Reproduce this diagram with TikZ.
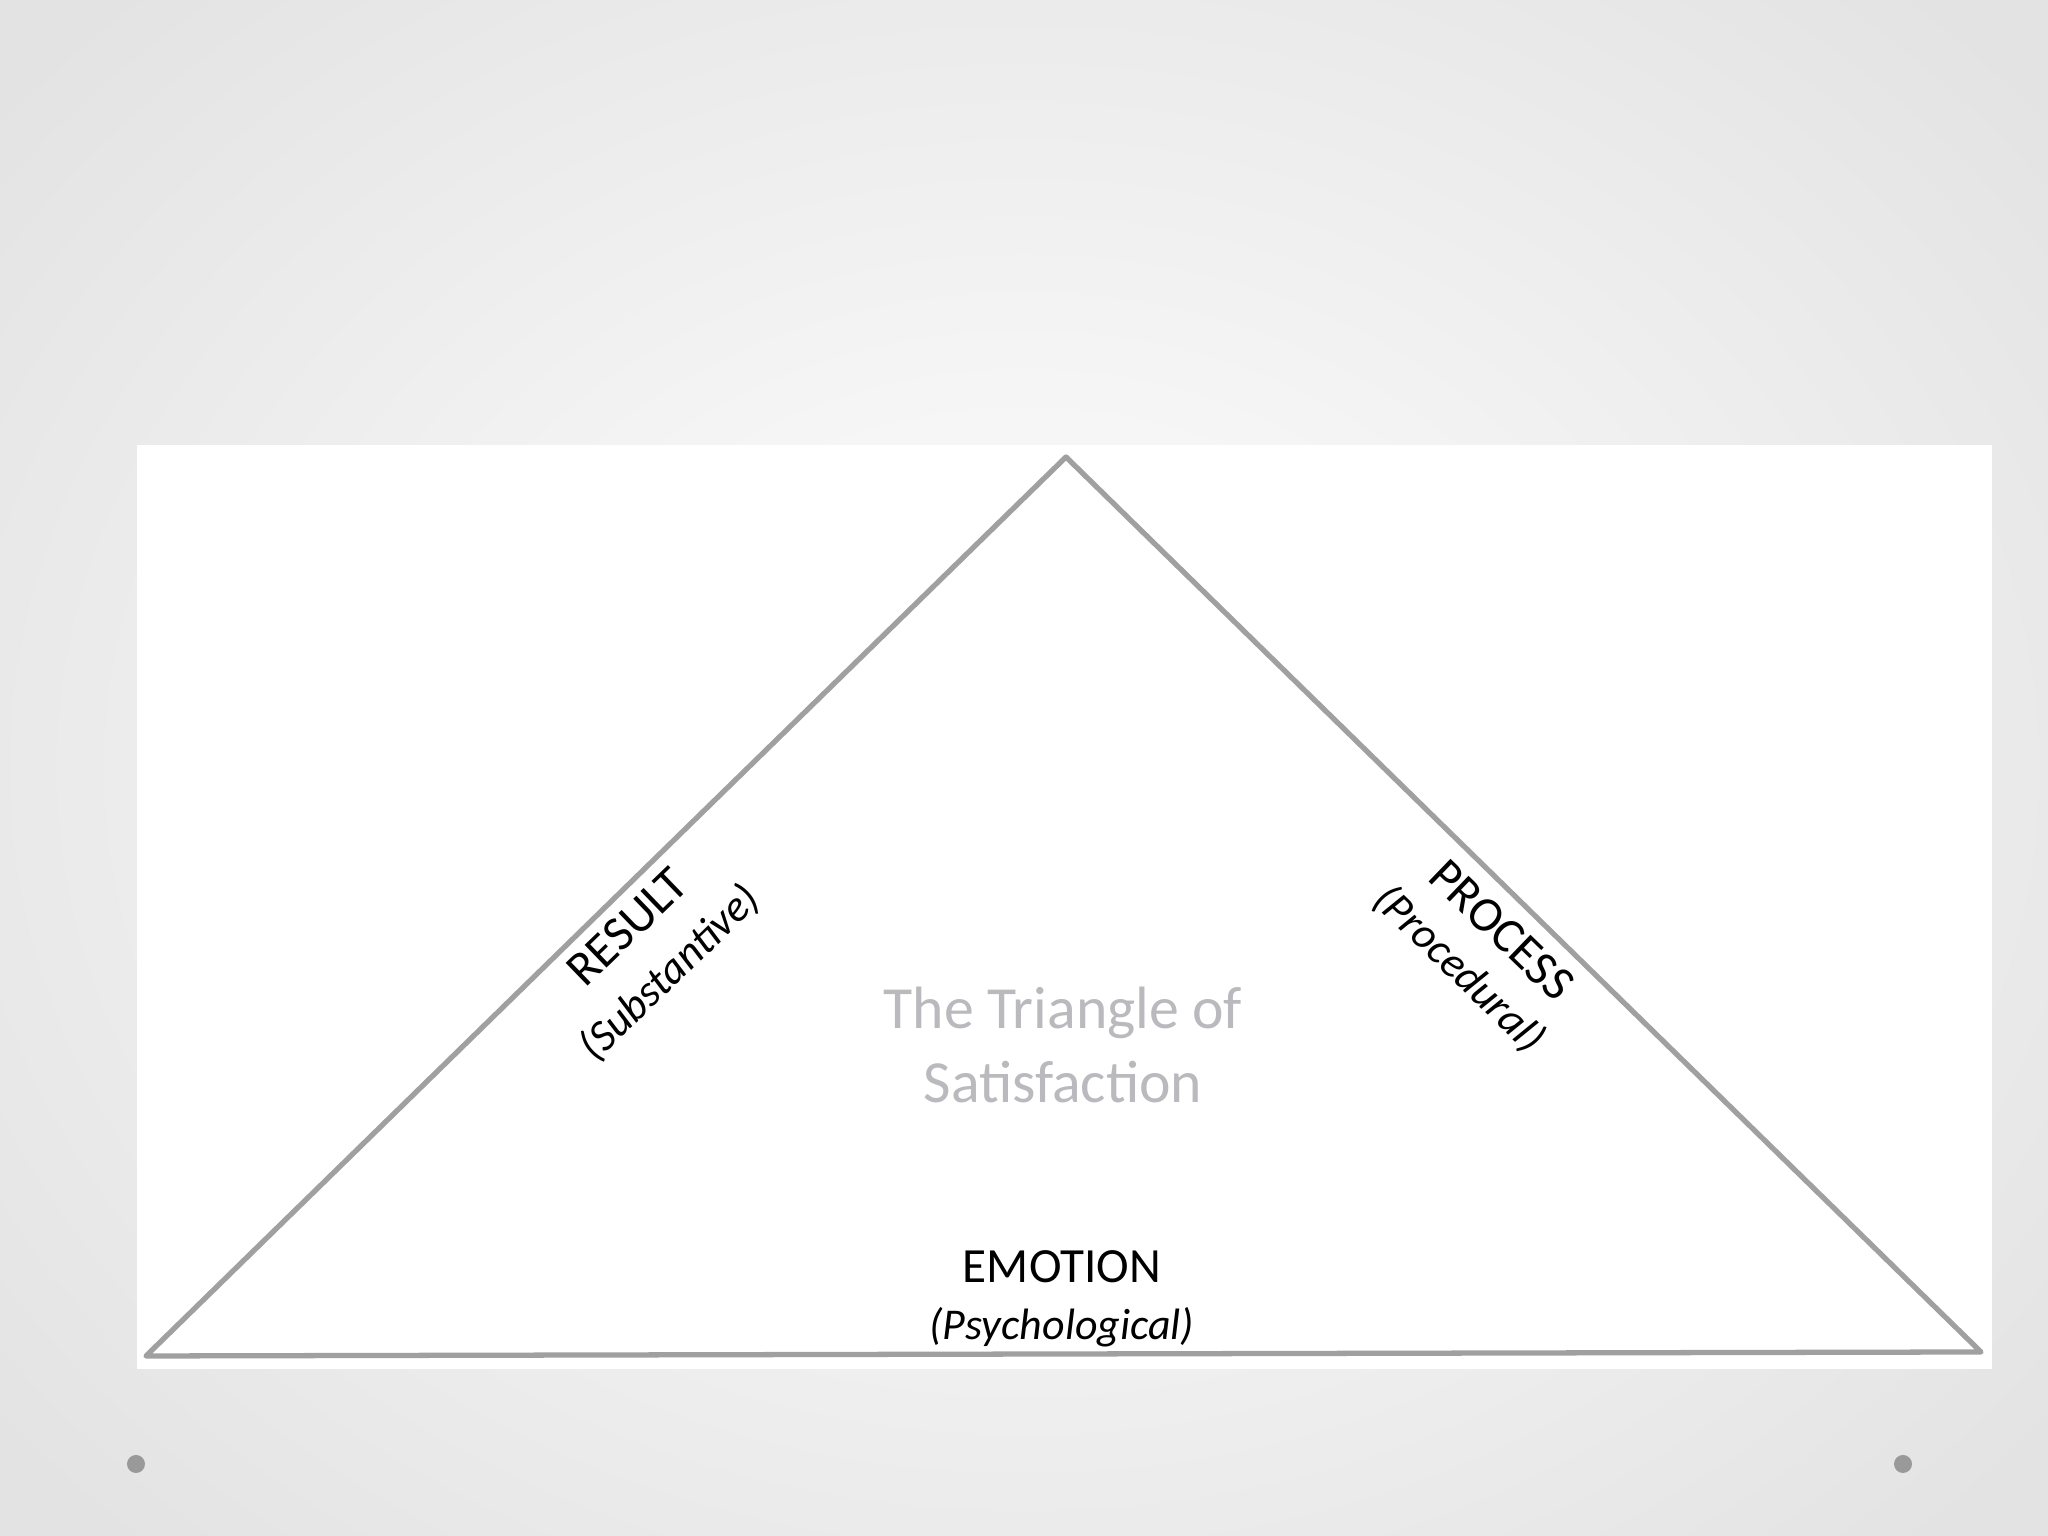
\documentclass[tikz,border=0pt]{standalone}
\usepackage{fontspec}
\setmainfont{Carlito}
\begin{document}
\begin{tikzpicture}
\definecolor{edge}{RGB}{160,160,160}
\definecolor{titlec}{RGB}{185,185,190}
\tikzset{lbl/.style={inner sep=0pt,font=\fontsize{14}{16}\selectfont},
 sub/.style={inner sep=0pt,font=\fontsize{12.5}{15}\selectfont\itshape},
 dotc/.style={fill=gray!80,draw=none}}
\useasboundingbox (0,0) rectangle (20.48,15.36);
\shade[inner color=white,outer color=gray!22] (-3,-3) rectangle (23.48,18.36);
\fill[white] (1.37,1.67) rectangle (19.92,10.91);
\coordinate (A) at (10.66,10.79);
\coordinate (L) at (1.46,1.80);
\coordinate (R) at (19.81,1.84);
\draw[edge,line width=1.5pt,line join=round] (A) -- (L) -- (R) -- cycle;
\node[align=center,text=titlec,font=\fontsize{17}{21}\selectfont] (t) at (10.63,4.91) {The Triangle of\\Satisfaction};
\node[lbl] (e) at (10.62,2.69) {EMOTION};
\node[sub] (ep) at (10.62,2.09) {(Psychological)};
\node[lbl,rotate=44] (r) at (6.27,6.09) {RESULT};
\node[sub,rotate=44] (rs) at (6.70,5.63) {(Substantive)};
\node[lbl,rotate=-44] (p) at (15.02,6.06) {PROCESS};
\node[sub,rotate=-44] (pp) at (14.59,5.67) {(Procedural)};
\fill[dotc] (1.36,0.72) circle (0.09);
\fill[dotc] (19.03,0.72) circle (0.09);
\end{tikzpicture}
\end{document}
